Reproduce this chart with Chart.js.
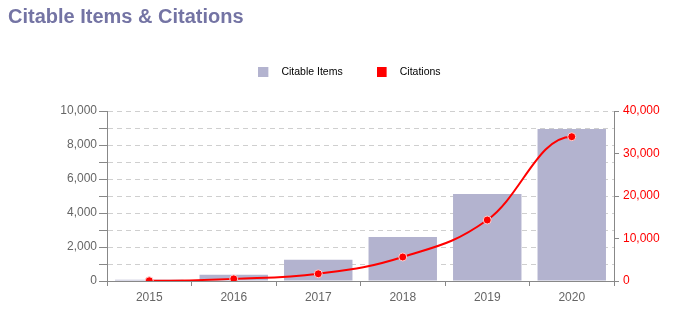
<!DOCTYPE html>
<html>
<head>
<meta charset="utf-8">
<script src="https://cdn.jsdelivr.net/npm/chart.js@4/dist/chart.umd.min.js"></script>
<style>
  html, body { margin: 0; padding: 0; background: #fff; }
  #c { display: block; }
</style>
</head>
<body>
<canvas id="c" width="699" height="314"></canvas>
<script>
const years = ['2015', '2016', '2017', '2018', '2019', '2020'];
const citableItems = [80, 370, 1250, 2590, 5120, 8940];
const citations = [50, 500, 1700, 5650, 14350, 33950];
const leftTicks = [0, 2000, 4000, 6000, 8000, 10000];
const rightTicks = [0, 10000, 20000, 30000, 40000];

const FONT = '"Liberation Sans", Arial, sans-serif';
const BAR_COLOR = '#b3b3cf';
const LINE_COLOR = '#ff0000';
const fmt = v => v.toLocaleString('en-US');

// legend marker: 10x10 square on the left of an 18px-wide transparent canvas
function marker(color) {
  const c = document.createElement('canvas');
  c.width = 18; c.height = 10;
  const g = c.getContext('2d');
  g.fillStyle = color;
  g.fillRect(0, 0, 10, 10);
  return c;
}
const markers = [marker(BAR_COLOR), marker(LINE_COLOR)];

// spline smoothing in the style of the original chart (smoothing 1.5, clamped, flat ends)
const splinePlugin = {
  id: 'splineStyle',
  beforeDatasetDraw(chart, args) {
    const meta = args.meta;
    if (meta.type !== 'line') return;
    meta.dataset.updateControlPoints(chart.chartArea, 'x');
    const pts = meta.data;
    const n = pts.length;
    const s = 1.5, d = s + 1;
    for (let i = 0; i < n; i++) {
      const p = pts[i];
      const prev = pts[i - 1], next = pts[i + 1];
      let lx = p.x, ly = p.y, rx = p.x, ry = p.y;
      if (prev && next) {
        lx = (s * p.x + prev.x) / d; ly = (s * p.y + prev.y) / d;
        rx = (s * p.x + next.x) / d; ry = (s * p.y + next.y) / d;
        const corr = ((ry - ly) * (rx - p.x)) / (rx - lx) + p.y - ry;
        ly += corr; ry += corr;
        if (ly > Math.max(prev.y, p.y)) { ly = Math.max(prev.y, p.y); ry = 2 * p.y - ly; }
        else if (ly < Math.min(prev.y, p.y)) { ly = Math.min(prev.y, p.y); ry = 2 * p.y - ly; }
        if (ry > Math.max(next.y, p.y)) { ry = Math.max(next.y, p.y); ly = 2 * p.y - ry; }
        else if (ry < Math.min(next.y, p.y)) { ry = Math.min(next.y, p.y); ly = 2 * p.y - ry; }
      } else if (prev) {
        lx = (s * p.x + prev.x) / d; ly = p.y;
      } else if (next) {
        rx = (s * p.x + next.x) / d; ry = p.y;
      }
      p.cp1x = lx; p.cp1y = ly; p.cp2x = rx; p.cp2y = ry;
    }
  }
};

new Chart(document.getElementById('c'), {
  data: {
    labels: years,
    datasets: [
      {
        type: 'bar',
        label: 'Citable Items',
        data: citableItems,
        backgroundColor: BAR_COLOR,
        borderWidth: 0,
        yAxisID: 'y',
        order: 2,
        barPercentage: 0.81,
        categoryPercentage: 1.0
      },
      {
        type: 'line',
        label: 'Citations',
        data: citations,
        borderColor: LINE_COLOR,
        backgroundColor: LINE_COLOR,
        borderWidth: 2,
        tension: 0.4,
        pointRadius: 4,
        pointBackgroundColor: LINE_COLOR,
        pointBorderColor: '#ffd0d0',
        pointBorderWidth: 1,
        yAxisID: 'y1',
        order: 1
      }
    ]
  },
  plugins: [splinePlugin],
  options: {
    responsive: false,
    animation: false,
    layout: { padding: { left: 8, right: 8, top: 0, bottom: 0 } },
    plugins: {
      title: {
        display: true,
        text: 'Citable Items & Citations',
        align: 'start',
        color: '#7474a4',
        font: { family: FONT, size: 20, weight: 'bold', lineHeight: 1.2 },
        padding: { top: 5, bottom: 3.75 },
        weight: 2000
      },
      legend: {
        display: true,
        position: 'top',
        weight: 1000,
        labels: {
          usePointStyle: true,
          pointStyleWidth: 17.75,
          boxWidth: 10,
          boxHeight: 10,
          color: '#000',
          padding: 34,
          font: { family: FONT, size: 10.5 },
          generateLabels: chart => chart.data.datasets.map((ds, i) => ({
            text: ds.label,
            pointStyle: markers[i],
            fillStyle: i === 0 ? BAR_COLOR : LINE_COLOR,
            strokeStyle: i === 0 ? BAR_COLOR : LINE_COLOR,
            lineWidth: 0,
            hidden: false,
            datasetIndex: i
          }))
        }
      },
      subtitle: {
        display: true,
        text: ' ',
        weight: 500,
        font: { family: FONT, size: 10, lineHeight: 1.2 },
        padding: { top: 0, bottom: 11.75 }
      },
      tooltip: { enabled: false }
    },
    scales: {
      x: {
        type: 'category',
        offset: true,
        grid: {
          offset: true,
          drawOnChartArea: false,
          drawTicks: true,
          tickLength: 5,
          color: '#888'
        },
        border: { display: true, color: '#888', width: 1 },
        ticks: {
          color: '#666',
          font: { family: FONT, size: 12 },
          padding: 4,
          autoSkip: false,
          maxRotation: 0
        },
        afterFit: s => { s.height = 33; }
      },
      y: {
        type: 'linear',
        position: 'left',
        min: 0,
        max: 10000,
        grid: {
          drawOnChartArea: true,
          color: '#cfcfcf',
          tickColor: '#888',
          tickLength: 8,
          tickBorderDash: []
        },
        border: { display: true, color: '#888', width: 1, dash: [5, 4] },
        ticks: {
          stepSize: 1000,
          autoSkip: false,
          color: '#666',
          padding: 2,
          font: { family: FONT, size: 12 },
          callback: v => leftTicks.includes(v) ? fmt(v) : ''
        },
        afterFit: s => { s.width = 99; }
      },
      y1: {
        type: 'linear',
        position: 'right',
        min: 0,
        max: 40000,
        grid: {
          drawOnChartArea: false,
          color: '#888',
          tickLength: 5
        },
        border: { display: true, color: '#888', width: 1 },
        ticks: {
          stepSize: 10000,
          autoSkip: false,
          color: LINE_COLOR,
          padding: 4,
          font: { family: FONT, size: 12 },
          callback: v => rightTicks.includes(v) ? fmt(v) : ''
        },
        afterFit: s => { s.width = 77; }
      }
    }
  }
});
</script>
</body>
</html>
